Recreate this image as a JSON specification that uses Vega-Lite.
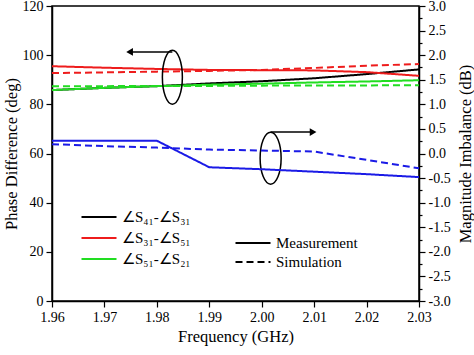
{
  "$schema": "https://vega.github.io/schema/vega-lite/v6.json",
  "width": 367,
  "height": 295,
  "autosize": "none",
  "padding": {"left": 52, "top": 6, "right": 55, "bottom": 54},
  "background": "white",
  "config": {
    "font": "Liberation Serif",
    "view": {"stroke": "black", "strokeWidth": 1.5},
    "axis": {
      "domainColor": "black", "domainWidth": 1.5,
      "tickColor": "black", "tickWidth": 1.2,
      "labelFont": "Liberation Serif", "labelFontSize": 14, "labelColor": "black",
      "titleFont": "Liberation Serif", "titleFontSize": 16.5, "titleFontWeight": "normal", "titleColor": "black",
      "grid": false, "labelOverlap": false, "labelFlush": false
    },
    "legend": {
      "labelFont": "Liberation Serif", "labelFontSize": 15, "labelColor": "black",
      "symbolStrokeWidth": 2, "symbolSize": 400, "symbolType": "M-1.75,0L1.75,0"
    }
  },
  "datasets": {
    "phase": [
      {"f": 1.96, "v": 85.8, "s": "∠S₄₁-∠S₃₁", "t": "Measurement"},
      {"f": 1.97, "v": 86.7, "s": "∠S₄₁-∠S₃₁", "t": "Measurement"},
      {"f": 1.98, "v": 87.4, "s": "∠S₄₁-∠S₃₁", "t": "Measurement"},
      {"f": 1.99, "v": 88.5, "s": "∠S₄₁-∠S₃₁", "t": "Measurement"},
      {"f": 2.00, "v": 89.4, "s": "∠S₄₁-∠S₃₁", "t": "Measurement"},
      {"f": 2.01, "v": 90.6, "s": "∠S₄₁-∠S₃₁", "t": "Measurement"},
      {"f": 2.02, "v": 92.3, "s": "∠S₄₁-∠S₃₁", "t": "Measurement"},
      {"f": 2.03, "v": 94.2, "s": "∠S₄₁-∠S₃₁", "t": "Measurement"},
      {"f": 1.96, "v": 95.5, "s": "∠S₃₁-∠S₅₁", "t": "Measurement"},
      {"f": 1.97, "v": 94.9, "s": "∠S₃₁-∠S₅₁", "t": "Measurement"},
      {"f": 1.98, "v": 94.4, "s": "∠S₃₁-∠S₅₁", "t": "Measurement"},
      {"f": 1.99, "v": 94.0, "s": "∠S₃₁-∠S₅₁", "t": "Measurement"},
      {"f": 2.00, "v": 93.9, "s": "∠S₃₁-∠S₅₁", "t": "Measurement"},
      {"f": 2.01, "v": 93.8, "s": "∠S₃₁-∠S₅₁", "t": "Measurement"},
      {"f": 2.02, "v": 93.1, "s": "∠S₃₁-∠S₅₁", "t": "Measurement"},
      {"f": 2.03, "v": 91.6, "s": "∠S₃₁-∠S₅₁", "t": "Measurement"},
      {"f": 1.96, "v": 85.8, "s": "∠S₅₁-∠S₂₁", "t": "Measurement"},
      {"f": 1.97, "v": 86.7, "s": "∠S₅₁-∠S₂₁", "t": "Measurement"},
      {"f": 1.98, "v": 87.4, "s": "∠S₅₁-∠S₂₁", "t": "Measurement"},
      {"f": 1.99, "v": 88.0, "s": "∠S₅₁-∠S₂₁", "t": "Measurement"},
      {"f": 2.00, "v": 88.4, "s": "∠S₅₁-∠S₂₁", "t": "Measurement"},
      {"f": 2.01, "v": 88.9, "s": "∠S₅₁-∠S₂₁", "t": "Measurement"},
      {"f": 2.02, "v": 89.3, "s": "∠S₅₁-∠S₂₁", "t": "Measurement"},
      {"f": 2.03, "v": 89.8, "s": "∠S₅₁-∠S₂₁", "t": "Measurement"},
      {"f": 1.96, "v": 92.7, "s": "∠S₃₁-∠S₅₁", "t": "Simulation"},
      {"f": 1.97, "v": 93.0, "s": "∠S₃₁-∠S₅₁", "t": "Simulation"},
      {"f": 1.98, "v": 93.3, "s": "∠S₃₁-∠S₅₁", "t": "Simulation"},
      {"f": 1.99, "v": 93.6, "s": "∠S₃₁-∠S₅₁", "t": "Simulation"},
      {"f": 2.00, "v": 94.0, "s": "∠S₃₁-∠S₅₁", "t": "Simulation"},
      {"f": 2.01, "v": 94.8, "s": "∠S₃₁-∠S₅₁", "t": "Simulation"},
      {"f": 2.02, "v": 95.7, "s": "∠S₃₁-∠S₅₁", "t": "Simulation"},
      {"f": 2.03, "v": 96.4, "s": "∠S₃₁-∠S₅₁", "t": "Simulation"},
      {"f": 1.96, "v": 87.4, "s": "∠S₅₁-∠S₂₁", "t": "Simulation"},
      {"f": 1.97, "v": 87.4, "s": "∠S₅₁-∠S₂₁", "t": "Simulation"},
      {"f": 1.98, "v": 87.5, "s": "∠S₅₁-∠S₂₁", "t": "Simulation"},
      {"f": 1.99, "v": 87.5, "s": "∠S₅₁-∠S₂₁", "t": "Simulation"},
      {"f": 2.00, "v": 87.6, "s": "∠S₅₁-∠S₂₁", "t": "Simulation"},
      {"f": 2.01, "v": 87.7, "s": "∠S₅₁-∠S₂₁", "t": "Simulation"},
      {"f": 2.02, "v": 87.7, "s": "∠S₅₁-∠S₂₁", "t": "Simulation"},
      {"f": 2.03, "v": 87.8, "s": "∠S₅₁-∠S₂₁", "t": "Simulation"}
    ],
    "mag": [
      {"f": 1.96, "v": 0.26, "s": "Mag", "t": "Measurement"},
      {"f": 1.97, "v": 0.26, "s": "Mag", "t": "Measurement"},
      {"f": 1.98, "v": 0.26, "s": "Mag", "t": "Measurement"},
      {"f": 1.99, "v": -0.28, "s": "Mag", "t": "Measurement"},
      {"f": 2.00, "v": -0.32, "s": "Mag", "t": "Measurement"},
      {"f": 2.01, "v": -0.37, "s": "Mag", "t": "Measurement"},
      {"f": 2.02, "v": -0.42, "s": "Mag", "t": "Measurement"},
      {"f": 2.03, "v": -0.48, "s": "Mag", "t": "Measurement"},
      {"f": 1.96, "v": 0.19, "s": "Mag", "t": "Simulation"},
      {"f": 1.97, "v": 0.15, "s": "Mag", "t": "Simulation"},
      {"f": 1.98, "v": 0.12, "s": "Mag", "t": "Simulation"},
      {"f": 1.99, "v": 0.08, "s": "Mag", "t": "Simulation"},
      {"f": 2.00, "v": 0.06, "s": "Mag", "t": "Simulation"},
      {"f": 2.01, "v": 0.04, "s": "Mag", "t": "Simulation"},
      {"f": 2.02, "v": -0.13, "s": "Mag", "t": "Simulation"},
      {"f": 2.03, "v": -0.30, "s": "Mag", "t": "Simulation"}
    ]
  },
  "layer": [
    {
      "layer": [
        {
          "data": {"name": "phase"},
          "mark": {"type": "line", "strokeWidth": 2},
          "encoding": {
            "x": {
              "field": "f", "type": "quantitative",
              "scale": {"domain": [1.96, 2.03], "nice": false, "zero": false},
              "axis": {
                "title": "Frequency (GHz)",
                "values": [1.96, 1.965, 1.97, 1.975, 1.98, 1.985, 1.99, 1.995, 2.0, 2.005, 2.01, 2.015, 2.02, 2.025, 2.03],
                "labelExpr": "abs(datum.value*100 - round(datum.value*100)) < 0.01 ? format(datum.value, '.2f') : ''",
                "tickSize": {"condition": {"test": "abs(datum.value*100 - round(datum.value*100)) < 0.01", "value": 6}, "value": 3},
                "labelPadding": 3,
                "titlePadding": 4
              }
            },
            "y": {
              "field": "v", "type": "quantitative",
              "scale": {"domain": [0, 120], "nice": false},
              "axis": {
                "orient": "left",
                "title": "Phase Difference (deg)",
                "values": [0, 5, 10, 15, 20, 25, 30, 35, 40, 45, 50, 55, 60, 65, 70, 75, 80, 85, 90, 95, 100, 105, 110, 115, 120],
                "labelExpr": "datum.value % 10 == 0 ? '' + datum.value : ''",
                "tickSize": {"condition": {"test": "datum.value % 10 == 0", "value": 6}, "value": 3},
                "labelPadding": 3,
                "titlePadding": 3
              }
            },
            "color": {
              "field": "s", "type": "nominal",
              "scale": {
                "domain": ["∠S₄₁-∠S₃₁", "∠S₃₁-∠S₅₁", "∠S₅₁-∠S₂₁", "Mag"],
                "range": ["#000000", "#ee1c1c", "#22dd22", "#1a1ae6"]
              },
              "legend": {
                "title": null,
                "values": ["∠S₄₁-∠S₃₁", "∠S₃₁-∠S₅₁", "∠S₅₁-∠S₂₁"],
                "orient": "none", "legendX": 36, "legendY": 200,
                "rowPadding": 2, "labelOffset": 12
              }
            },
            "strokeDash": {
              "field": "t", "type": "nominal",
              "scale": {"domain": ["Measurement", "Simulation"], "range": [[1, 0], [7, 4]]},
              "legend": {
                "title": null,
                "orient": "none", "legendX": 190, "legendY": 226,
                "symbolStrokeColor": "black",
                "rowPadding": -3, "labelOffset": 12
              }
            }
          }
        },
        {
          "data": {"values": [{"a": 1}]},
          "mark": {"type": "point", "shape": "M0,-1A0.37,1,0,1,1,0,1A0.37,1,0,1,1,0,-1Z", "size": 2916, "filled": false, "stroke": "black", "strokeWidth": 1.5, "opacity": 1},
          "encoding": {"x": {"datum": 1.98296, "type": "quantitative"}, "y": {"datum": 91.06, "type": "quantitative"}}
        },
        {
          "data": {"values": [{"a": 1}]},
          "mark": {"type": "point", "shape": "M0,-1A0.404,1,0,1,1,0,1A0.404,1,0,1,1,0,-1Z", "size": 2704, "filled": false, "stroke": "black", "strokeWidth": 1.5, "opacity": 1},
          "encoding": {"x": {"datum": 2.0017, "type": "quantitative"}, "y": {"datum": 58.1, "type": "quantitative"}}
        },
        {
          "data": {"values": [{"a": 1}]},
          "mark": {"type": "rule", "stroke": "black", "strokeWidth": 1.5},
          "encoding": {"x": {"datum": 1.98296, "type": "quantitative"}, "x2": {"datum": 1.9752}, "y": {"datum": 101.3, "type": "quantitative"}}
        },
        {
          "data": {"values": [{"a": 1}]},
          "mark": {"type": "point", "shape": "triangle-left", "size": 60, "filled": true, "color": "black", "opacity": 1},
          "encoding": {"x": {"datum": 1.9748, "type": "quantitative"}, "y": {"datum": 101.3, "type": "quantitative"}}
        },
        {
          "data": {"values": [{"a": 1}]},
          "mark": {"type": "rule", "stroke": "black", "strokeWidth": 1.5},
          "encoding": {"x": {"datum": 2.0017, "type": "quantitative"}, "x2": {"datum": 2.0094}, "y": {"datum": 68.7, "type": "quantitative"}}
        },
        {
          "data": {"values": [{"a": 1}]},
          "mark": {"type": "point", "shape": "triangle-right", "size": 60, "filled": true, "color": "black", "opacity": 1},
          "encoding": {"x": {"datum": 2.0098, "type": "quantitative"}, "y": {"datum": 68.7, "type": "quantitative"}}
        }
      ]
    },
    {
      "data": {"name": "mag"},
      "mark": {"type": "line", "strokeWidth": 2},
      "encoding": {
        "x": {"field": "f", "type": "quantitative"},
        "y": {
          "field": "v", "type": "quantitative",
          "scale": {"domain": [-3, 3], "nice": false, "zero": false},
          "axis": {
            "orient": "right",
            "title": "Magnitude Imbalance (dB)",
            "titleAngle": 270,
            "values": [-3, -2.75, -2.5, -2.25, -2, -1.75, -1.5, -1.25, -1, -0.75, -0.5, -0.25, 0, 0.25, 0.5, 0.75, 1, 1.25, 1.5, 1.75, 2, 2.25, 2.5, 2.75, 3],
            "labelExpr": "abs(datum.value*2 - round(datum.value*2)) < 0.01 ? (datum.value < 0 ? '-' : '') + format(abs(datum.value), '.1f') : ''",
            "tickSize": {"condition": {"test": "abs(datum.value*2 - round(datum.value*2)) < 0.01", "value": 6}, "value": 3},
            "labelPadding": 3,
            "titlePadding": 23
          }
        },
        "color": {"field": "s", "type": "nominal"},
        "strokeDash": {"field": "t", "type": "nominal"}
      }
    }
  ],
  "resolve": {"scale": {"y": "independent"}}
}
